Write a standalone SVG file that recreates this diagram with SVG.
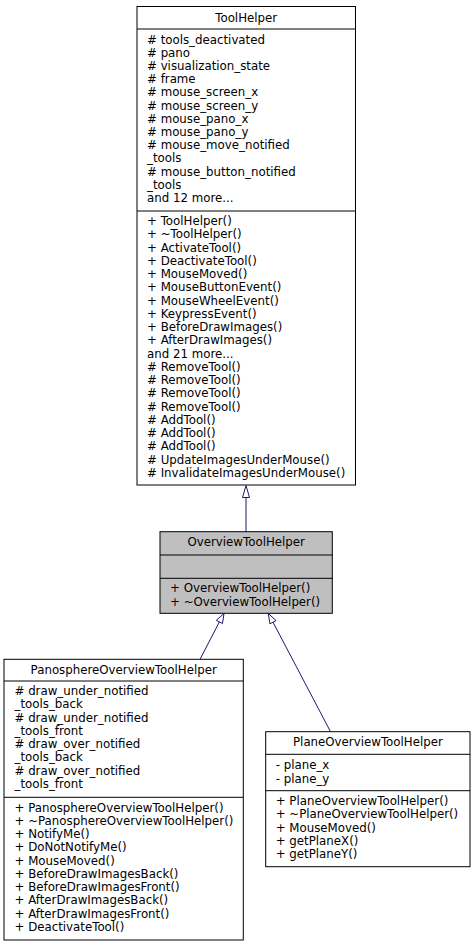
<svg xmlns="http://www.w3.org/2000/svg" width="474" height="945" viewBox="0 0 474 945">
<defs>
<style>
.box{fill:#ffffff;stroke:#000000;stroke-width:1}
.grey{fill:#bfbfbf;stroke:#000000;stroke-width:1}
.sep{stroke:#000000;stroke-width:1}
text{font-family:"DejaVu Sans","Liberation Sans",sans-serif;font-size:11.8px;fill:#000000}
.c{text-anchor:middle}
.edge{stroke:#191970;stroke-width:1;fill:none}
.head{stroke:#191970;stroke-width:1;fill:#ffffff}
</style>
</defs>
<rect width="474" height="945" fill="#ffffff"/>
<g id="connectors">
<line class="edge" x1="246" y1="497.5" x2="246" y2="531.7"/>
<polygon class="head" points="246,485.5 242.5,497.5 249.5,497.5"/>
<line class="edge" x1="219.4" y1="621.9" x2="200" y2="659.3"/>
<polygon class="head" points="224,613.5 216.3,620.3 222.5,623.5"/>
<line class="edge" x1="273" y1="622.2" x2="330.5" y2="731.7"/>
<polygon class="head" points="268.3,613.5 269.9,623.8 276.1,620.6"/>
</g>
<g id="ToolHelper">
<rect class="box" x="137" y="6.5" width="218.5" height="478.5"/>
<line class="sep" x1="137" y1="29" x2="355.5" y2="29"/>
<line class="sep" x1="137" y1="211" x2="355.5" y2="211"/>
<text class="c" x="246.2" y="21.5">ToolHelper</text>
<text x="147" y="43.5"># tools_deactivated</text>
<text x="147" y="56.7"># pano</text>
<text x="147" y="69.9"># visualization_state</text>
<text x="147" y="83.1"># frame</text>
<text x="147" y="96.3"># mouse_screen_x</text>
<text x="147" y="109.5"># mouse_screen_y</text>
<text x="147" y="122.7"># mouse_pano_x</text>
<text x="147" y="135.9"># mouse_pano_y</text>
<text x="147" y="149.1"># mouse_move_notified</text>
<text x="147" y="162.3">_tools</text>
<text x="147" y="175.5"># mouse_button_notified</text>
<text x="147" y="188.7">_tools</text>
<text x="147" y="201.9">and 12 more...</text>
<text x="147" y="225">+ ToolHelper()</text>
<text x="147" y="238.25">+ ~ToolHelper()</text>
<text x="147" y="251.5">+ ActivateTool()</text>
<text x="147" y="264.75">+ DeactivateTool()</text>
<text x="147" y="278">+ MouseMoved()</text>
<text x="147" y="291.25">+ MouseButtonEvent()</text>
<text x="147" y="304.5">+ MouseWheelEvent()</text>
<text x="147" y="317.75">+ KeypressEvent()</text>
<text x="147" y="331">+ BeforeDrawImages()</text>
<text x="147" y="344.25">+ AfterDrawImages()</text>
<text x="147" y="357.5">and 21 more...</text>
<text x="147" y="370.75"># RemoveTool()</text>
<text x="147" y="384"># RemoveTool()</text>
<text x="147" y="397.25"># RemoveTool()</text>
<text x="147" y="410.5"># RemoveTool()</text>
<text x="147" y="423.75"># AddTool()</text>
<text x="147" y="437"># AddTool()</text>
<text x="147" y="450.25"># AddTool()</text>
<text x="147" y="463.5"># UpdateImagesUnderMouse()</text>
<text x="147" y="476.75"># InvalidateImagesUnderMouse()</text>
</g>
<g id="OverviewToolHelper">
<rect class="grey" x="160" y="531.7" width="172.3" height="81.6"/>
<line class="sep" x1="160" y1="555" x2="332.3" y2="555"/>
<line class="sep" x1="160" y1="578.3" x2="332.3" y2="578.3"/>
<text class="c" x="246.2" y="546">OverviewToolHelper</text>
<text x="170" y="592.3">+ OverviewToolHelper()</text>
<text x="170" y="605.5">+ ~OverviewToolHelper()</text>
</g>
<g id="PanosphereOverviewToolHelper">
<rect class="box" x="4" y="659.3" width="239.3" height="280.7"/>
<line class="sep" x1="4" y1="681" x2="243.3" y2="681"/>
<line class="sep" x1="4" y1="797.3" x2="243.3" y2="797.3"/>
<text class="c" x="123.7" y="673.5">PanosphereOverviewToolHelper</text>
<text x="14.5" y="695"># draw_under_notified</text>
<text x="14.5" y="708.25">_tools_back</text>
<text x="14.5" y="721.5"># draw_under_notified</text>
<text x="14.5" y="734.75">_tools_front</text>
<text x="14.5" y="748"># draw_over_notified</text>
<text x="14.5" y="761.25">_tools_back</text>
<text x="14.5" y="774.5"># draw_over_notified</text>
<text x="14.5" y="787.75">_tools_front</text>
<text x="14.5" y="811.5">+ PanosphereOverviewToolHelper()</text>
<text x="14.5" y="824.75">+ ~PanosphereOverviewToolHelper()</text>
<text x="14.5" y="838">+ NotifyMe()</text>
<text x="14.5" y="851.25">+ DoNotNotifyMe()</text>
<text x="14.5" y="864.5">+ MouseMoved()</text>
<text x="14.5" y="877.75">+ BeforeDrawImagesBack()</text>
<text x="14.5" y="891">+ BeforeDrawImagesFront()</text>
<text x="14.5" y="904.25">+ AfterDrawImagesBack()</text>
<text x="14.5" y="917.5">+ AfterDrawImagesFront()</text>
<text x="14.5" y="930.75">+ DeactivateTool()</text>
</g>
<g id="PlaneOverviewToolHelper">
<rect class="box" x="265.7" y="731.7" width="204.3" height="135"/>
<line class="sep" x1="265.7" y1="754.3" x2="470" y2="754.3"/>
<line class="sep" x1="265.7" y1="790.7" x2="470" y2="790.7"/>
<text class="c" x="367.9" y="746">PlaneOverviewToolHelper</text>
<text x="275.7" y="769.3">- plane_x</text>
<text x="275.7" y="782.5">- plane_y</text>
<text x="275.7" y="805">+ PlaneOverviewToolHelper()</text>
<text x="275.7" y="818.25">+ ~PlaneOverviewToolHelper()</text>
<text x="275.7" y="831.5">+ MouseMoved()</text>
<text x="275.7" y="844.75">+ getPlaneX()</text>
<text x="275.7" y="858">+ getPlaneY()</text>
</g>
</svg>
